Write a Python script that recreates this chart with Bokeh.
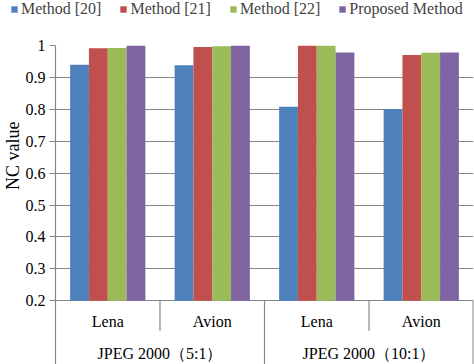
from bokeh.plotting import figure
from bokeh.layouts import column
from bokeh.models import (FactorRange, Range1d, Legend, LegendItem, FixedTicker,
                          ColumnDataSource, Title)
from bokeh.transform import dodge
from bokeh.core.properties import value
from bokeh.embed import file_html
from bokeh.resources import INLINE

# ---- data ----
groups = ["JPEG 2000（5:1）", "JPEG 2000（10:1）"]
images = ["Lena", "Avion"]
methods = ["Method [20]", "Method [21]", "Method [22]", "Proposed Method"]
method20 = [0.940, 0.938, 0.808, 0.801]
method21 = [0.991, 0.995, 1.000, 0.970]
method22 = [0.992, 0.998, 1.000, 0.977]
proposed = [1.000, 1.000, 0.978, 0.978]
ytick_values = [0.2, 0.3, 0.4, 0.5, 0.6, 0.7, 0.8, 0.9, 1.0]
ytick_labels = ["0.2", "0.3", "0.4", "0.5", "0.6", "0.7", "0.8", "0.9", "1"]
y_title = "NC value"

# ---- styling ----
colors = ["#4F81BD", "#C0504D", "#9BBB59", "#8064A2"]
FONT = "Liberation Serif"
GRID = "#868686"
BASE = 0.2
BAR_W = 0.18
offsets = [-0.27, -0.09, 0.09, 0.27]
LABEL_Y = 0.134
GROUP_Y = 0.034
INNER_SEP_Y = 0.106

factors = [(g, im) for g in groups for im in images]
src = ColumnDataSource(dict(x=factors, m0=method20, m1=method21, m2=method22, m3=proposed,
                            image=[f[1] for f in factors]))

# ---- legend strip (separate figure above the chart) ----
leg_fig = figure(width=474, height=37, output_backend="svg", toolbar_location=None,
                 x_range=Range1d(0, 1), y_range=Range1d(0, 1),
                 x_axis_location=None, y_axis_location=None, min_border=0)
leg_fig.outline_line_color = None
leg_fig.grid.visible = False
# swatch-only renderers, kept outside the visible range
swatches = [leg_fig.vbar(x=[-5], top=[-5], bottom=[-6], width=0.1, fill_color=col,
                         line_color=None) for col in colors]
legend = Legend(items=[LegendItem(label=m, renderers=[r]) for m, r in zip(methods, swatches)],
                orientation="horizontal", location=(10, 19),
                glyph_width=8, glyph_height=8, label_standoff=3, spacing=18,
                padding=0, margin=0, border_line_color=None, background_fill_alpha=0,
                label_text_font=FONT, label_text_font_size="16px")
leg_fig.add_layout(legend, "center")

# ---- main chart ----
p = figure(width=474, height=327, output_backend="svg", toolbar_location=None,
           x_range=FactorRange(factors=factors, factor_padding=0, group_padding=0,
                               range_padding=0),
           y_range=Range1d(0.0, 1.0), x_axis_location=None,
           min_border_left=0, min_border_right=1, min_border_bottom=0, min_border_top=8)
p.outline_line_color = None
p.xgrid.visible = False
p.ygrid.ticker = FixedTicker(ticks=ytick_values)
p.ygrid.grid_line_color = GRID
p.ygrid.grid_line_width = 1.2

for fig in (leg_fig, p):
    try:
        fig.frame_align = False
    except Exception:
        pass

cols = ["m0", "m1", "m2", "m3"]
for c, off, col in zip(cols, offsets, colors):
    p.vbar(x=dodge("x", off, range=p.x_range), top=c, bottom=BASE, width=BAR_W,
           source=src, fill_color=col, line_color=None)

p.text(x="x", y=LABEL_Y, text="image", source=src, text_align="center",
       text_baseline="middle", text_font=value(FONT), text_font_size="16px",
       text_color="black")
gsrc = ColumnDataSource(dict(x=groups, text=groups))
p.text(x="x", y=GROUP_Y, text="text", source=gsrc, text_align="center",
       text_baseline="middle", text_font=value(FONT), text_font_size="16px",
       text_color="black")

inner = ColumnDataSource(dict(x=[(g, images[1]) for g in groups],
                              y0=[INNER_SEP_Y] * len(groups), y1=[BASE] * len(groups)))
p.segment(x0=dodge("x", -0.5, range=p.x_range), x1=dodge("x", -0.5, range=p.x_range),
          y0="y0", y1="y1", source=inner, line_color=GRID, line_width=1.2)
outer = ColumnDataSource(dict(x=[(groups[1], images[0])], y0=[0.0], y1=[BASE]))
p.segment(x0=dodge("x", -0.5, range=p.x_range), x1=dodge("x", -0.5, range=p.x_range),
          y0="y0", y1="y1", source=outer, line_color=GRID, line_width=1.2)
right = ColumnDataSource(dict(x=[(groups[-1], images[-1])], y0=[0.0], y1=[BASE]))
p.segment(x0=dodge("x", 0.5, range=p.x_range), x1=dodge("x", 0.5, range=p.x_range),
          y0="y0", y1="y1", source=right, line_color=GRID, line_width=2)

ax = p.yaxis[0]
ax.ticker = FixedTicker(ticks=ytick_values)
ax.major_label_overrides = {v: s for v, s in zip(ytick_values, ytick_labels)}
ax.major_label_text_font = FONT
ax.major_label_text_font_size = "16px"
ax.major_label_text_color = "black"
ax.major_label_standoff = 4
ax.axis_line_color = GRID
ax.axis_line_width = 1.2
ax.major_tick_line_color = GRID
ax.major_tick_line_width = 1.2
ax.major_tick_out = 6
ax.major_tick_in = 0
ax.minor_tick_line_color = None

# value-axis title, placed along the 0.2..1 part of the axis
p.add_layout(Title(text=y_title, align="right", offset=76, standoff=0,
                   text_font=FONT, text_font_size="18px", text_font_style="normal",
                   text_color="black"), "left")

open("out.html", "w").write(file_html(column(leg_fig, p, spacing=0), INLINE))
